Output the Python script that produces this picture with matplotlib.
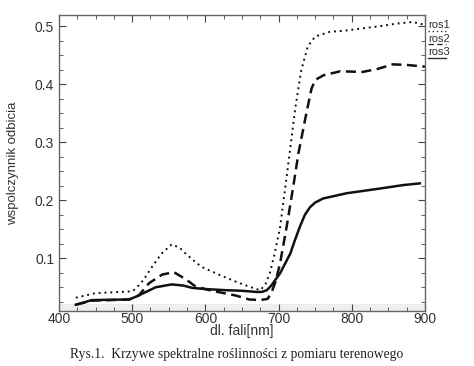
import matplotlib
matplotlib.use("Agg")
from matplotlib import pyplot as plt
from matplotlib.lines import Line2D
from matplotlib.ticker import MultipleLocator

# wavelength [nm] / reflectance
ros1_x = [423, 450, 500, 505, 515, 527, 540, 554, 565, 573, 585, 595, 620, 641, 660, 675,
          682, 688, 695, 702, 710, 715, 723, 731, 740, 750, 770, 790, 815, 840, 860, 883, 900]
ros1_y = [0.032, 0.040, 0.043, 0.048, 0.062, 0.085, 0.108, 0.124, 0.118, 0.108, 0.095, 0.085,
          0.071, 0.060, 0.051, 0.045, 0.055, 0.074, 0.110, 0.153, 0.230, 0.280, 0.360, 0.424,
          0.465, 0.482, 0.490, 0.492, 0.496, 0.500, 0.504, 0.507, 0.502]

ros2_x = [423, 445, 496, 509, 523, 541, 557, 573, 587, 609, 641, 660, 675, 685, 690, 696,
          702, 711, 720, 727, 738, 745, 750, 761, 784, 815, 835, 856, 875, 900]
ros2_y = [0.020, 0.027, 0.029, 0.036, 0.057, 0.072, 0.076, 0.064, 0.051, 0.044, 0.036, 0.029,
          0.028, 0.030, 0.040, 0.060, 0.091, 0.154, 0.223, 0.280, 0.350, 0.392, 0.407, 0.415,
          0.422, 0.421, 0.426, 0.434, 0.433, 0.430]

ros3_x = [423, 445, 496, 509, 532, 554, 570, 582, 600, 628, 650, 670, 677, 684, 690, 702,
          716, 722, 729, 736, 743, 750, 761, 793, 838, 870, 893]
ros3_y = [0.020, 0.028, 0.029, 0.036, 0.050, 0.055, 0.053, 0.049, 0.047, 0.045, 0.044, 0.042,
          0.042, 0.045, 0.053, 0.074, 0.108, 0.130, 0.154, 0.175, 0.188, 0.196, 0.203, 0.212,
          0.220, 0.226, 0.229]

series_names = ["ros1", "ros2", "ros3"]
x_ticks = [400, 500, 600, 700, 800, 900]
y_ticks = [0.1, 0.2, 0.3, 0.4, 0.5]

plt.rcParams["font.family"] = ["Liberation Sans", "DejaVu Sans"]
grey = "#444444"

fig = plt.figure(figsize=(4.74, 3.66), dpi=100)
ax = fig.add_axes([0.1245, 0.150, 0.772, 0.809])

ax.axhspan(0.0, 0.022, color="#eeeeee", zorder=0, lw=0)

styles = [dict(ls=(0, (1, 2)), lw=1.4), dict(ls=(0, (4, 2.2)), lw=1.8), dict(ls="-", lw=1.8)]
for (x, y), st in zip([(ros1_x, ros1_y), (ros2_x, ros2_y), (ros3_x, ros3_y)], styles):
    ax.plot(x, y, color="#111111", **st)

ax.set_xlim(400, 900)
ax.set_ylim(0.009, 0.519)
ax.set_xticks(x_ticks)
ax.set_yticks(y_ticks)
ax.set_yticklabels([f"{v:.1f}" for v in y_ticks])
ax.xaxis.set_minor_locator(MultipleLocator(25))
ax.yaxis.set_minor_locator(MultipleLocator(0.025))
ax.tick_params(which="both", direction="in", top=True, right=True, color=grey,
               labelsize=10, labelcolor="#333333")
ax.tick_params(which="major", length=5)
ax.tick_params(which="minor", length=3)
ax.tick_params(axis="x", pad=1)
for sp in ax.spines.values():
    sp.set_color("#666666")
    sp.set_linewidth(1.0)

ax.set_xlabel("dl. fali[nm]", fontsize=10, color="#333333", labelpad=-2)
ax.set_ylabel("wspolczynnik odbicia", fontsize=9.5, color="#333333", labelpad=11)

# legend outside on the right: names with underlines in the line style
for i, (name, st) in enumerate(zip(series_names, styles)):
    yt = 1 - (25 + 13.5 * i - 15) / 296
    ax.text(1.008, yt, name, transform=ax.transAxes, fontsize=8, color="#333333",
            ha="left", va="center", clip_on=False)
    yl = yt - 0.019
    ax.add_line(Line2D([1.008, 1.058], [yl, yl], transform=ax.transAxes, color="#333333",
                       ls=st["ls"], lw=1.0, clip_on=False))

fig.text(0.5, 0.032, "Rys.1.  Krzywe spektralne roślinności z pomiaru terenowego",
         family="Liberation Serif", fontsize=9.8, ha="center", va="center", color="#222222")

fig.savefig("out.png", dpi=100)
